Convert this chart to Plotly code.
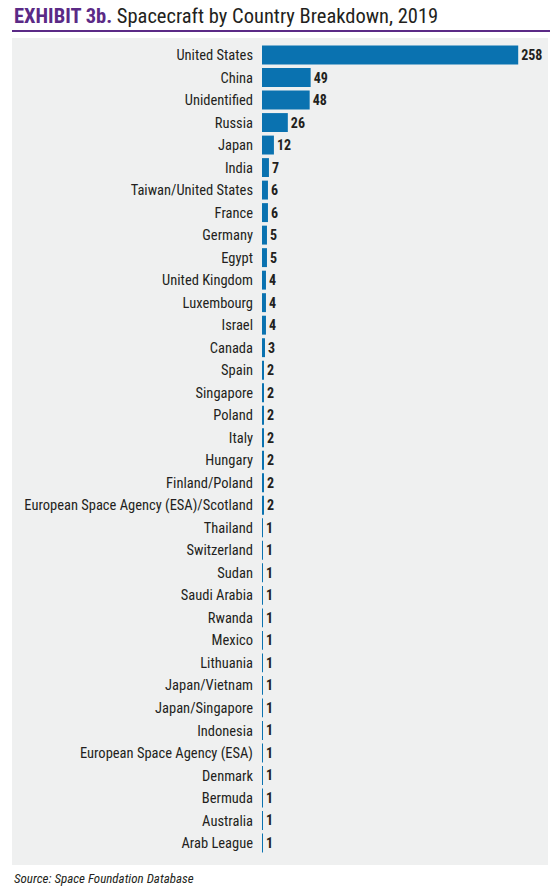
import plotly.graph_objects as go

countries = [
    "United States", "China", "Unidentified", "Russia", "Japan", "India",
    "Taiwan/United States", "France", "Germany", "Egypt", "United Kingdom",
    "Luxembourg", "Israel", "Canada", "Spain", "Singapore", "Poland", "Italy",
    "Hungary", "Finland/Poland", "European Space Agency (ESA)/Scotland",
    "Thailand", "Switzerland", "Sudan", "Saudi Arabia", "Rwanda", "Mexico",
    "Lithuania", "Japan/Vietnam", "Japan/Singapore", "Indonesia",
    "European Space Agency (ESA)", "Denmark", "Bermuda", "Australia",
    "Arab League",
]
spacecraft = [258, 49, 48, 26, 12, 7, 6, 6, 5, 5, 4, 4, 4, 3, 2, 2, 2, 2, 2,
              2, 2, 1, 1, 1, 1, 1, 1, 1, 1, 1, 1, 1, 1, 1, 1, 1]

# pixel layout of the page (body margin removed in post_script below)
W, H = 560, 889
panel_l, panel_r, panel_t, panel_b = 12, 548, 38, 865
axis_px = 262
first_row, last_row = 55, 843
font_name = "Roboto Condensed, Liberation Sans Narrow, Arial Narrow, sans-serif"

fig = go.Figure()
fig.add_trace(go.Bar(
    x=spacecraft, y=countries, orientation="h",
    marker=dict(color="#0a72b0", line=dict(width=0)),
    width=0.84,
    text=[f"<b>{v}</b>" for v in spacecraft],
    textposition="outside", cliponaxis=False,
    textfont=dict(family=font_name, size=14, color="#231f20"),
))

dom_start = (axis_px - panel_l) / (panel_r - panel_l)
n = len(countries)
row = (last_row - first_row) / (n - 1)
ph = panel_b - panel_t
fig.update_layout(
    width=W, height=H,
    margin=dict(l=panel_l, r=W - panel_r, t=panel_t, b=H - panel_b),
    paper_bgcolor="white", plot_bgcolor="rgba(0,0,0,0)",
    showlegend=False,
    font=dict(family=font_name, size=14, color="#231f20"),
    xaxis=dict(domain=[dom_start, 1], range=[0, 288], visible=False),
    yaxis=dict(range=[n - 1 + (panel_b - last_row) / row, -(first_row - panel_t) / row],
               showgrid=False, zeroline=False, ticks="", ticklabelstandoff=8,
               tickfont=dict(family=font_name, size=14.5, color="#231f20")),
    shapes=[
        dict(type="rect", xref="paper", yref="paper", x0=0, x1=1, y0=0, y1=1,
             fillcolor="#eff0f0", line=dict(width=0), layer="below"),
        dict(type="line", xref="paper", yref="paper", x0=0, x1=(550 - panel_l) / (panel_r - panel_l),
             y0=1 + 7 / ph, y1=1 + 7 / ph,
             line=dict(color="#5b2a86", width=2)),
    ],
    annotations=[
        dict(xref="paper", yref="paper", x=0, y=1 + 22 / ph,
             xanchor="left", yanchor="middle", showarrow=False,
             text="<b><span style='color:#5b2a86'>EXHIBIT 3b.</span></b> Spacecraft by Country Breakdown, 2019",
             font=dict(family=font_name, size=20.5, color="#231f20")),
        dict(xref="paper", yref="paper", x=0, y=-13 / ph,
             xanchor="left", yanchor="middle", showarrow=False,
             text="<i>Source: Space Foundation Database</i>",
             font=dict(family=font_name, size=13, color="#231f20")),
    ],
)

fig.write_html("out.html", config={"displayModeBar": False},
               post_script="document.body.style.margin='0';")
